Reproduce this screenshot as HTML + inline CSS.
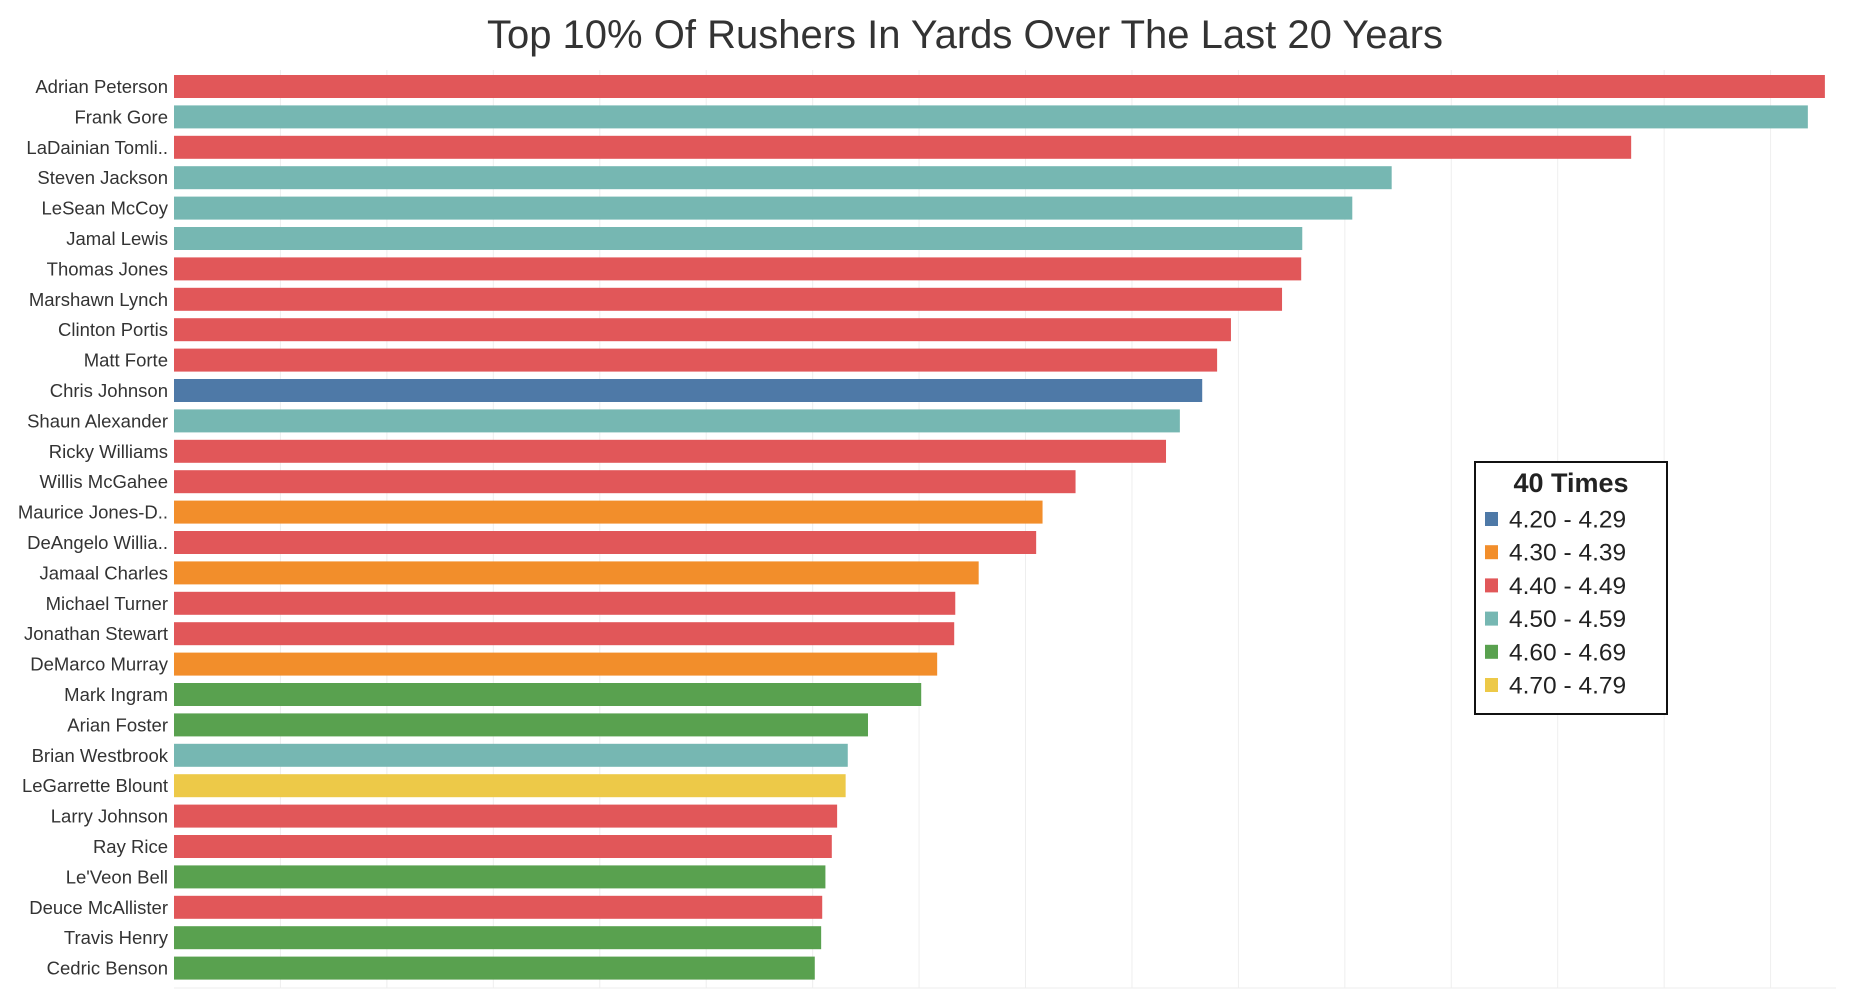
<!DOCTYPE html>
<html><head><meta charset="utf-8"><style>
body{margin:0;background:#fff;width:1862px;height:1003px;overflow:hidden;font-family:"Liberation Sans",sans-serif}
</style></head><body>
<svg id="chart" width="1862" height="1003" xmlns="http://www.w3.org/2000/svg">
<text x="965" y="48" text-anchor="middle" font-size="40" fill="#333" font-family="Liberation Sans, sans-serif">Top 10% Of Rushers In Yards Over The Last 20 Years</text>
<g id="grid"></g><g id="bars"></g><g id="labels"></g>
<g transform="translate(-9,-4)">
<rect x="1484" y="466" width="192" height="252" fill="#fff" stroke="#111" stroke-width="2"/>
<text x="1580" y="496" text-anchor="middle" font-size="27" font-weight="bold" fill="#222">40 Times</text>
<g id="legend-items"></g>
</g>
</svg>
<script>
const names=["Adrian Peterson","Frank Gore","LaDainian Tomli..","Steven Jackson","LeSean McCoy","Jamal Lewis","Thomas Jones","Marshawn Lynch","Clinton Portis","Matt Forte","Chris Johnson","Shaun Alexander","Ricky Williams","Willis McGahee","Maurice Jones-D..","DeAngelo Willia..","Jamaal Charles","Michael Turner","Jonathan Stewart","DeMarco Murray","Mark Ingram","Arian Foster","Brian Westbrook","LeGarrette Blount","Larry Johnson","Ray Rice","Le'Veon Bell","Deuce McAllister","Travis Henry","Cedric Benson"];
const yards=[15510,15350,13690,11440,11070,10600,10590,10410,9930,9800,9660,9450,9320,8470,8160,8100,7560,7340,7330,7170,7020,6520,6330,6310,6230,6180,6120,6090,6080,6020];
const groups=[2,3,2,3,3,3,2,2,2,2,0,3,2,2,1,2,1,2,2,1,4,4,3,5,2,2,4,2,4,4];
const groupLabels=["4.20 - 4.29","4.30 - 4.39","4.40 - 4.49","4.50 - 4.59","4.60 - 4.69","4.70 - 4.79"];
const groupColors=["#4e79a7","#f28e2b","#e15759","#76b7b2","#59a14f","#edc948"];
const gridTicks=[0,1000,2000,3000,4000,5000,6000,7000,8000,9000,10000,11000,12000,13000,14000,15000];
const NS="http://www.w3.org/2000/svg";
const x0=174,pxPer=0.10644;
const xs=v=>x0+v*pxPer;
const y0=75,pitch=30.40,bh=23;
const ys=i=>y0+i*pitch;
function mk(t,a,p){const e=document.createElementNS(NS,t);for(const k in a)e.setAttribute(k,a[k]);p.appendChild(e);return e;}
const G=document.getElementById('grid');
gridTicks.forEach(t=>{if(t===0)return;const l=mk('line',{x1:xs(t),x2:xs(t),y1:70,y2:988,stroke:'#eee','stroke-width':1},G);

});
mk('line',{x1:x0,x2:1836,y1:988,y2:988,stroke:'#eee'},G);
const B=document.getElementById('bars'),L=document.getElementById('labels');
names.forEach((n,i)=>{
const r=mk('rect',{x:x0,y:ys(i),width:xs(yards[i])-x0,height:bh,fill:groupColors[groups[i]]},B);


const t=mk('text',{x:168,y:ys(i)+bh/2+6.5,'text-anchor':'end','font-size':18.5,fill:'#333'},L);t.textContent=n;


});
const LI=document.getElementById('legend-items');
groupLabels.forEach((g,i)=>{const y=523+i*33.2;
const s=mk('rect',{x:1494,y:y-7,width:13,height:14,fill:groupColors[i]},LI);


const t=mk('text',{x:1518,y:y+8.5,'font-size':24.5,fill:'#222'},LI);t.textContent=g;


});
</script>
</body></html>
